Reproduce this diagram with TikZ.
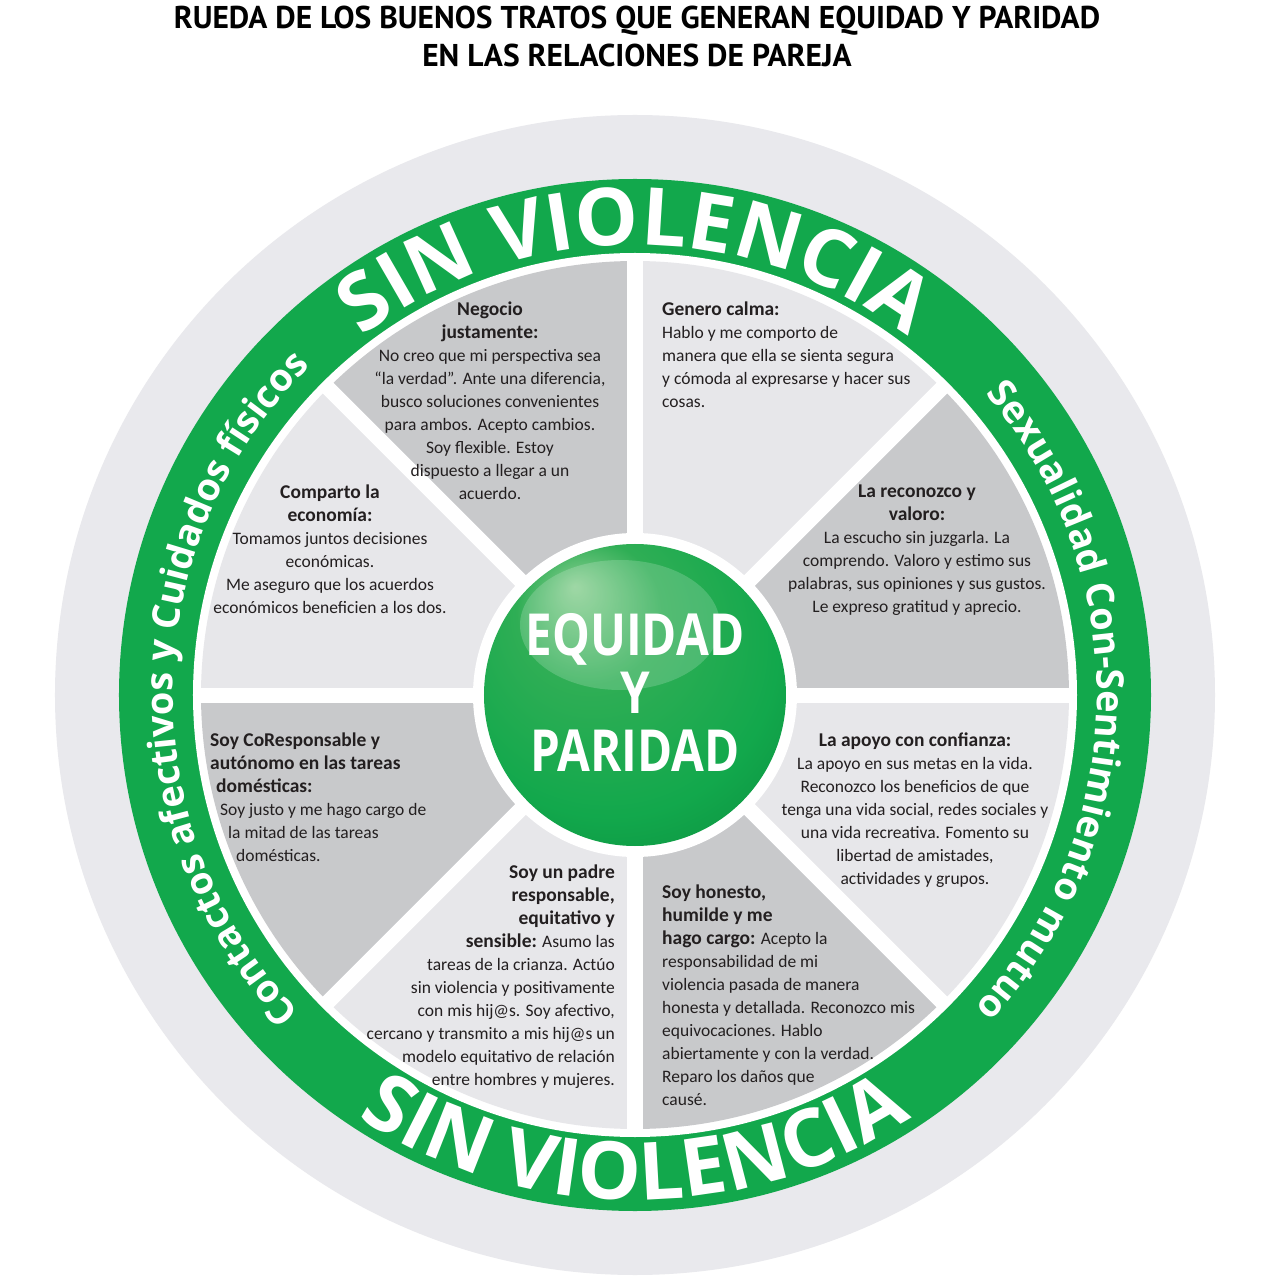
\documentclass[tikz,border=0pt]{standalone}
\usepackage{fontspec}
\setmainfont{Carlito}
\newfontfamily\titlefont{PT Sans}
\newfontfamily\ringfont{Open Sans}
\usetikzlibrary{decorations.text}
\definecolor{wgreen}{HTML}{12A84C}
\definecolor{dgrey}{HTML}{C8C9CB}
\definecolor{lgrey}{HTML}{E7E7EA}
\definecolor{bgrey}{HTML}{E9E9ED}
\definecolor{ttxt}{HTML}{231F20}
\definecolor{ballin}{HTML}{8ACF92}
\definecolor{ballmid}{HTML}{2FAE55}
\definecolor{ballout}{HTML}{0B8E3E}
\pgfdeclareradialshading{ballsh}{\pgfpoint{-10bp}{18bp}}{color(0bp)=(ballin); color(12bp)=(ballmid); color(28bp)=(wgreen); color(40bp)=(ballout); color(50bp)=(ballout)}
\tikzset{
  body/.style={font=\fontsize{17.5}{23}\selectfont, text=ttxt, inner sep=0pt},
  ringtext/.style={decorate, decoration={text along path, text align=center}},
}
\newcommand{\hd}[1]{{\fontsize{19.5}{23}\selectfont\textbf{#1}}}
\begin{document}
\begin{tikzpicture}[x=1pt,y=1pt]
\useasboundingbox (-635,-590) rectangle (639,695);
\fill[white] (-635,-590) rectangle (639,695);
% title
\node[font=\titlefont\bfseries\fontsize{31.5}{38}\selectfont, align=center, text=black] (title) at (2,659) {RUEDA DE LOS BUENOS TRATOS QUE GENERAN EQUIDAD Y PARIDAD\\EN LAS RELACIONES DE PAREJA};
% discs
\fill[bgrey] (0,0) circle (580);
\fill[wgreen] (0,0) circle (516);
\fill[white] (0,0) circle (442);
% sectors
\foreach \a/\c in {0/dgrey,45/lgrey,90/dgrey,135/lgrey,180/dgrey,225/lgrey,270/dgrey,315/lgrey}{
  \fill[\c] (0,0) -- (\a:434) arc[start angle=\a,end angle=\a+45,radius=434] -- cycle;
}
\foreach \a in {0,45,...,315}{
  \draw[white,line width=15] (0,0) -- (\a:440);
}
% centre
\fill[white] (0,0) circle (162);
\shade[shading=ballsh] (0,0) circle (151);
\fill[white,opacity=0.18] (-15,70) ellipse (100 and 65);
\node[font=\ringfont\bfseries\fontsize{58}{58}\selectfont, text=white, align=center, xscale=0.82] (centre) at (0,3) {EQUIDAD\\Y\\PARIDAD};
% ring texts
\path[ringtext, decoration={text={|\ringfont\bfseries\fontsize{80}{80}\selectfont\color{white}|SIN VIOLENCIA}}]
  (130:450) arc[start angle=130,end angle=50,radius=450];
\path[ringtext, decoration={text={|\ringfont\bfseries\fontsize{80}{80}\selectfont\color{white}|SIN VIOLENCIA}}]
  (229:505) arc[start angle=229,end angle=311,radius=505];
\path[ringtext, decoration={text={|\ringfont\bfseries\fontsize{38}{38}\selectfont\color{white}|Contactos afectivos y Cuidados físicos}}]
  (226:462) arc[start angle=226,end angle=132,radius=462];
\path[ringtext, decoration={text={|\ringfont\bfseries\fontsize{38}{38}\selectfont\color{white}|Sexualidad Con-Sentimiento mutuo}}]
  (43:462) arc[start angle=43,end angle=-45,radius=462];
% sector texts
\node[body, align=center, anchor=north] (neg) at (-145,393) {\hd{Negocio}\\\hd{justamente:}\\No creo que mi perspectiva sea\\“la verdad”. Ante una diferencia,\\busco soluciones convenientes\\para ambos. Acepto cambios.\\Soy flexible. Estoy\\dispuesto a llegar a un\\acuerdo.};
\node[body, align=left, anchor=north west] (calma) at (27,393) {\hd{Genero calma:}\\Hablo y me comporto de\\manera que ella se sienta segura\\y cómoda al expresarse y hacer sus\\cosas.};
\node[body, align=center, anchor=north] (recon) at (282,210) {\hd{La reconozco y}\\\hd{valoro:}\\La escucho sin juzgarla. La\\comprendo. Valoro y estimo sus\\palabras, sus opiniones y sus gustos.\\Le expreso gratitud y aprecio.};
\node[body, align=center, anchor=north] (econ) at (-305,210) {\hd{Comparto la}\\\hd{economía:}\\Tomamos juntos decisiones\\económicas.\\Me aseguro que los acuerdos\\económicos beneficien a los dos.};
\node[body, align=center, anchor=north] (apoyo) at (280,-38) {\hd{La apoyo con confianza:}\\La apoyo en sus metas en la vida.\\Reconozco los beneficios de que\\tenga una vida social, redes sociales y\\una vida recreativa. Fomento su\\libertad de amistades,\\actividades y grupos.};
\node[body, align=left, anchor=north west] (coresp) at (-425,-38) {\hd{Soy CoResponsable y}\\\hd{autónomo en las tareas}\\\hspace{6pt}\hd{domésticas:}\\\hspace{10pt}Soy justo y me hago cargo de\\\hspace{18pt}la mitad de las tareas\\\hspace{26pt}domésticas.};
\node[body, align=right, anchor=north east] (padre) at (-20,-170) {\hd{Soy un padre}\\\hd{responsable,}\hspace{20pt}\\\hd{equitativo y}\hspace{52pt}\\\hd{sensible:} Asumo las\\tareas de la crianza. Actúo\\sin violencia y positivamente\\con mis hij@s. Soy afectivo,\hspace{52pt}\\cercano y transmito a mis hij@s un\\modelo equitativo de relación\\entre hombres y mujeres.};
\node[body, align=left, anchor=north west] (hon) at (27,-190) {\hd{Soy honesto,}\\\hd{humilde y me}\\\hd{hago cargo:} Acepto la\\responsabilidad de mi\\violencia pasada de manera\\honesta y detallada. Reconozco mis\\equivocaciones. Hablo\\abiertamente y con la verdad.\\Reparo los daños que\\causé.};
\end{tikzpicture}
\end{document}
